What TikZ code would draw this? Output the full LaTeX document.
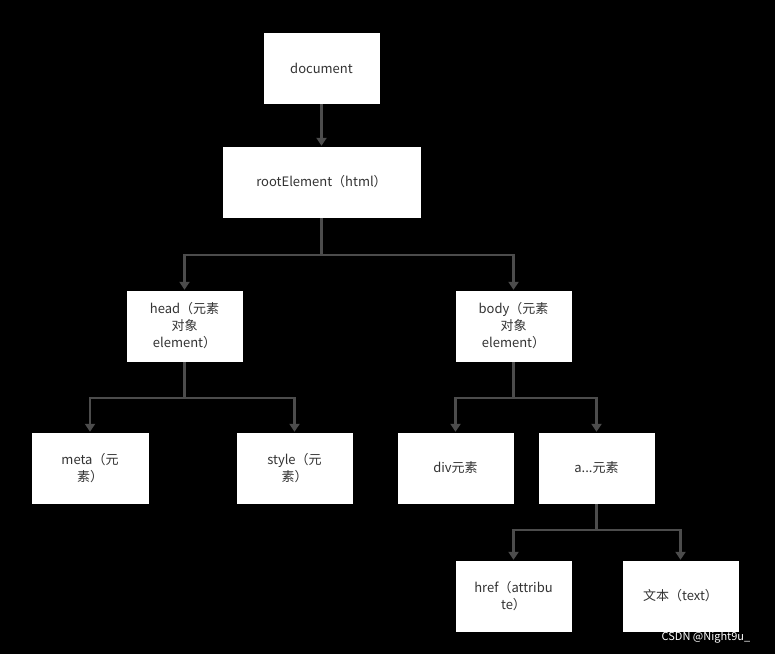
\documentclass[tikz,border=0pt]{standalone}
\usepackage{fontspec}
\setmainfont{Noto Sans CJK SC}
\usetikzlibrary{arrows.meta}
\begin{document}
\begin{tikzpicture}[x=1pt,y=-1pt,
 box/.style={draw=black,fill=white,minimum width=117pt,minimum height=72pt,align=center,font=\fontsize{13}{17}\selectfont,text=black!80},
 conn/.style={draw=black!70,line width=2.5pt,-{Triangle[width=10pt,length=8pt]}}]
\fill[black] (0,0) rectangle (775,654);
\useasboundingbox (0,0) rectangle (775,654);
\node[box] (doc) at (321.5,68) {document};
\node[box,minimum width=199pt] (root) at (321.5,182) {rootElement（html）};
\node[box] (head) at (184.5,326) {head（元素\\对象\\element）};
\node[box] (body) at (513.5,326) {body（元素\\对象\\element）};
\node[box,minimum width=118pt] (meta) at (90,468) {meta（元\\素）};
\node[box] (style) at (294.5,468) {style（元\\素）};
\node[box] (div) at (455.5,468) {div元素};
\node[box] (a) at (596.5,468) {a...元素};
\node[box] (href) at (513.5,596) {href（attribu\\te）};
\node[box] (txt) at (680.5,596) {文本（text）};
\coordinate (j1) at (321.5,255);
\coordinate (j2) at (184.5,398);
\coordinate (j3) at (513.5,398);
\coordinate (j4) at (596.5,530);
\draw[conn] (doc) -- (root);
\draw[draw=black!70,line width=2.5pt] (root.south) -- (j1);
\draw[conn] (j1) -| (head.north);
\draw[conn] (j1) -| (body.north);
\draw[draw=black!70,line width=2.5pt] (head.south) -- (j2);
\draw[conn] (j2) -| (meta.north);
\draw[conn] (j2) -| (style.north);
\draw[draw=black!70,line width=2.5pt] (body.south) -- (j3);
\draw[conn] (j3) -| (div.north);
\draw[conn] (j3) -| (a.north);
\draw[draw=black!70,line width=2.5pt] (a.south) -- (j4);
\draw[conn] (j4) -| (href.north);
\draw[conn] (j4) -| (txt.north);
\node[text=white,font=\fontsize{11}{13}\selectfont] (wm) at (706,637) {CSDN @Night9u\_};
\end{tikzpicture}
\end{document}
